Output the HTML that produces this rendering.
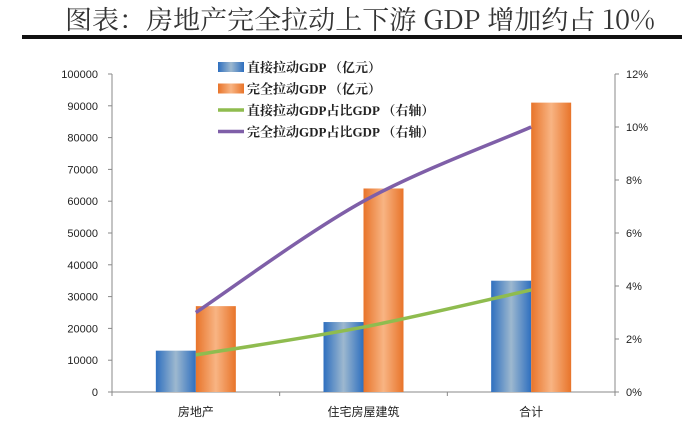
<!DOCTYPE html>
<html><head><meta charset="utf-8"><style>
body{margin:0;background:#fff;width:700px;height:421px;overflow:hidden;font-family:"Liberation Sans","Noto Sans CJK SC",sans-serif}
</style></head><body>
<svg width="700" height="421" xmlns="http://www.w3.org/2000/svg">
<defs>
<linearGradient id="gb" x1="0" x2="1" y1="0" y2="0"><stop offset="0" stop-color="#2e6fbf"/><stop offset="0.5" stop-color="#9db8cf"/><stop offset="1" stop-color="#2e6fbf"/></linearGradient>
<linearGradient id="go" x1="0" x2="1" y1="0" y2="0"><stop offset="0" stop-color="#e8742a"/><stop offset="0.5" stop-color="#f8b483"/><stop offset="1" stop-color="#e8742a"/></linearGradient>
</defs>
<text x="65" y="29" textLength="590" lengthAdjust="spacingAndGlyphs" font-size="26" font-family="'Noto Serif CJK SC','Liberation Serif',serif" fill="#333">图表：房地产完全拉动上下游 GDP 增加约占 10%</text>
<rect x="22" y="35" width="660" height="4" fill="#111"/>
<g id="plot"></g>
</svg>
<script>
const categories=["房地产","住宅房屋建筑","合计"];
const directGDP=[13000,22000,35000];
const totalGDP=[27000,64000,91000];
const directShare=[1.4,2.45,3.85];
const totalShare=[3.0,7.2,10.0];
const leftTicks=[0,10000,20000,30000,40000,50000,60000,70000,80000,90000,100000];
const rightTicks=[0,2,4,6,8,10,12];
const NS="http://www.w3.org/2000/svg";
const g=document.getElementById('plot');
const X0=112,X1=615,Y0=392,Y1=74;
const yL=v=>Y0-(v/100000)*(Y0-Y1);
const yR=v=>Y0-(v/12)*(Y0-Y1);
const band=(X1-X0)/categories.length;
const xc=i=>X0+band*(i+0.5);
function el(t,a,txt){const e=document.createElementNS(NS,t);for(const k in a)e.setAttribute(k,a[k]);if(txt!==undefined)e.textContent=txt;g.appendChild(e);return e;}
let e;
e=el('line',{x1:X0,y1:Y1,x2:X0,y2:Y0,stroke:'#888'});


e=el('line',{x1:X1,y1:Y1,x2:X1,y2:Y0,stroke:'#888'});


e=el('line',{x1:X0-4,y1:Y0,x2:X1,y2:Y0,stroke:'#888'});


leftTicks.forEach(v=>{const y=yL(v);el('line',{x1:X0-4,y1:y,x2:X0,y2:y,stroke:'#888'});
e=el('text',{x:X0-14,y:y+4,'text-anchor':'end','font-size':11,fill:'#222'},String(v));

});
rightTicks.forEach(v=>{const y=yR(v);el('line',{x1:X1,y1:y,x2:X1+4,y2:y,stroke:'#888'});
e=el('text',{x:X1+11,y:y+4,'font-size':11,fill:'#222'},v+'%');

});
for(let i=0;i<=categories.length;i++){const x=X0+band*i;el('line',{x1:x,y1:Y0,x2:x,y2:Y0+4,stroke:'#888'});}
categories.forEach((c,i)=>{
 const cx=xc(i);
 e=el('rect',{x:cx-40,y:yL(directGDP[i]),width:40,height:Y0-yL(directGDP[i]),fill:'url(#gb)'});
 
 
 e=el('rect',{x:cx,y:yL(totalGDP[i]),width:40,height:Y0-yL(totalGDP[i]),fill:'url(#go)'});
 
 
 e=el('text',{x:cx,y:Y0+24,'text-anchor':'middle','font-size':12,fill:'#222'},c);
 
 
});
function smooth(vals){const p=vals.map((v,i)=>[xc(i),yR(v)]);let d='M'+p[0][0]+','+p[0][1];
 for(let i=0;i<p.length-1;i++){const p0=p[i-1]||p[i],p1=p[i],p2=p[i+1],p3=p[i+2]||p2;
 const c1=[p1[0]+(p2[0]-p0[0])/6,p1[1]+(p2[1]-p0[1])/6],c2=[p2[0]-(p3[0]-p1[0])/6,p2[1]-(p3[1]-p1[1])/6];
 d+=` C${c1[0]},${c1[1]} ${c2[0]},${c2[1]} ${p2[0]},${p2[1]}`;}return d;}
e=el('path',{d:smooth(directShare),fill:'none',stroke:'#8fbc4f','stroke-width':3.5});


e=el('path',{d:smooth(totalShare),fill:'none',stroke:'#7f5fa8','stroke-width':3.5});


const legend=[['rect','url(#gb)','直接拉动GDP （亿元）'],['rect','url(#go)','完全拉动GDP （亿元）'],['line','#8fbc4f','直接拉动GDP占比GDP （右轴）'],['line','#7f5fa8','完全拉动GDP占比GDP （右轴）']];
legend.forEach((l,i)=>{const y=67+i*21.5;
 if(l[0]==='rect')el('rect',{x:218,y:y-5,width:26,height:10,fill:l[1]});else el('line',{x1:218,y1:y,x2:244,y2:y,stroke:l[1],'stroke-width':3.5});
 e=el('text',{x:247,y:y+5,'font-size':13,'font-weight':'bold',fill:'#222','font-family':"'Liberation Serif','Noto Serif CJK SC',serif"},l[2]);
 
 
});
</script>
</body></html>
